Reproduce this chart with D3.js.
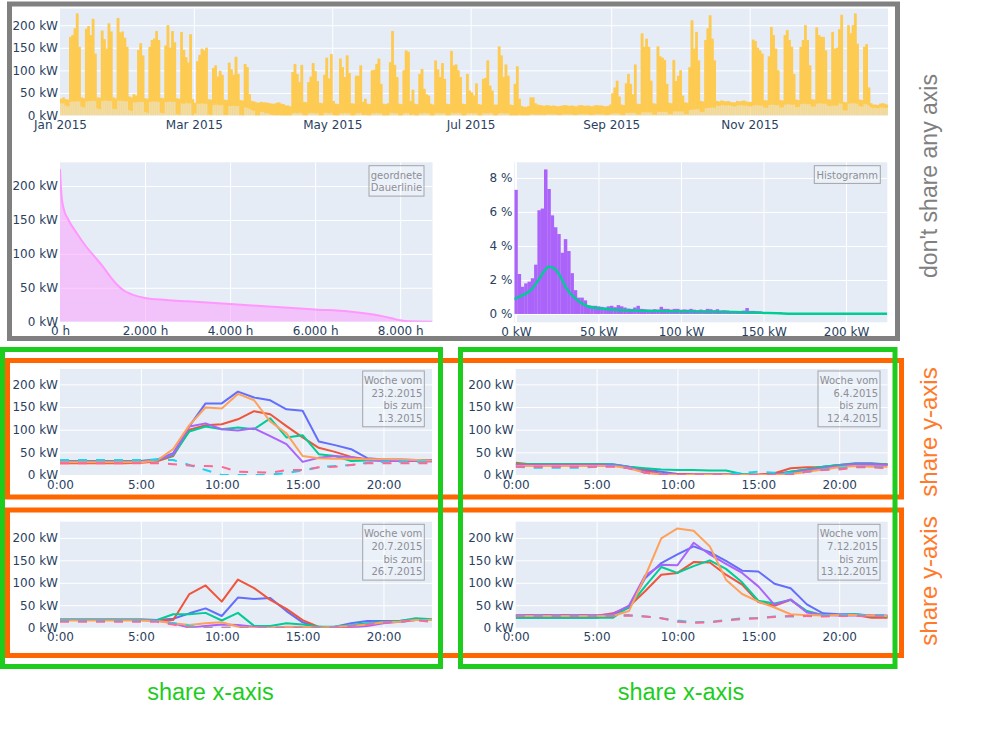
<!DOCTYPE html>
<html><head><meta charset="utf-8">
<script src="https://cdn.jsdelivr.net/npm/d3@7"></script>
<style>body{margin:0;background:#fff}svg{display:block}</style>
</head><body>
<svg id="c" width="1000" height="750"></svg>
<script>
// ---------------- DATA ----------------
// Top chart: daily peak and daily base load (kW), 2015
const peakJan=[35,38,34,33,172,176,191,224,150,38,36,190,196,176,212,135,38,37,186,167,146,202,184,38,36,214,182,184,170,150,40];
const peakFeb=[38,45,42,143,158,131,36,35,150,165,168,185,165,37,36,153,198,148,185,160,36,35,183,143,127,115,178,34];
const peakMar=[26,118,132,146,142,148,34,33,103,109,84,97,88,33,32,115,100,88,128,90,32,31,112,105,45,30,29,27,26,28,27];
const peakApr=[27,26,25,24,24,26,27,24,23,20,20,18,94,112,90,72,110,28,27,72,84,114,96,74,26,25,88,126,80,134];
const peakMay=[30,24,23,124,105,83,131,92,25,24,86,86,109,28,35,24,23,98,99,112,124,68,24,23,25,116,185,110,83,24,23];
const peakJun=[98,142,139,30,55,24,23,90,101,57,45,42,24,22,120,100,83,114,79,24,23,141,109,111,98,83,24,23,90,53];
const peakJul=[49,42,69,23,22,79,81,120,64,53,22,22,151,131,83,111,86,22,21,68,107,35,19,17,17,19,38,38,25,22,21];
const peakAug=[20,19,21,20,19,20,19,18,19,20,21,20,19,20,19,18,20,21,20,19,20,19,18,20,21,20,20,19,18,19,22];
const peakSep=[47,60,75,40,22,21,69,90,68,45,111,24,23,180,150,168,150,75,25,24,151,129,126,121,68,26,25,121,74,86];
const peakOct=[98,42,27,26,105,209,146,183,120,30,29,165,191,220,168,120,30,29,31,30,29,30,28,27,27,30,29,30,31,29,28];
const peakNov=[28,166,163,148,142,135,32,31,129,194,176,146,98,32,31,176,187,165,150,90,33,32,150,165,198,165,109,34,33,193];
const peakDec=[176,172,172,142,34,33,183,146,148,189,221,28,27,198,180,198,224,157,33,32,150,156,60,25,22,22,21,24,25,24,22];

const baseJan=[27,27,22,20,30,31,31,32,31,20,18,31,32,32,33,32,16,14,32,33,33,32,32,15,14,33,33,32,32,31,12];
const baseFeb=[10,29,29,30,30,30,8,6,30,31,31,31,30,6,5,30,30,31,30,30,3,2,27,26,28,27,27,0];
const baseMar=[5,26,26,27,26,26,2,1,23,24,24,23,23,1,1,21,21,22,21,21,1,0,18,17,15,12,10,0,0,8,8];
const baseApr=[5,5,3,1,1,0,1,0,0,0,0,0,5,6,5,6,5,0,0,5,6,6,5,5,0,0,6,6,5,6];
const baseMay=[1,0,0,5,5,6,5,5,0,0,5,5,6,1,2,0,0,5,5,6,5,5,0,0,0,6,6,5,5,0,0];
const baseJun=[5,6,5,1,3,0,0,5,5,6,5,5,0,0,5,6,5,5,5,0,0,6,5,5,6,5,0,0,5,5];
const baseJul=[5,5,5,0,0,6,5,5,6,5,0,0,5,6,5,5,5,0,0,0,0,2,0,0,0,0,3,3,2,2,2];
const baseAug=[2,1,3,3,3,3,3,1,1,3,3,3,3,3,1,1,3,3,3,3,3,1,1,3,3,3,3,3,1,1,3];
const baseSep=[4,5,5,4,1,1,6,6,6,6,6,2,2,7,7,7,7,7,2,2,8,8,8,8,8,3,3,9,9,9];
const baseOct=[9,9,3,3,12,13,13,14,14,8,8,16,17,17,18,17,22,21,23,23,22,23,22,21,20,22,23,23,22,22,21];
const baseNov=[20,22,23,23,22,22,18,17,23,24,24,23,23,18,18,24,25,25,24,24,19,19,25,26,26,25,25,20,20,26];
const baseDec=[27,27,26,26,22,21,22,22,22,27,26,12,11,26,27,27,27,26,21,20,25,25,22,18,17,17,16,18,18,17,17];

const monthTickDates=["2015-01-01","2015-03-01","2015-05-01","2015-07-01","2015-09-01","2015-11-01"];
const kwTicks=[0,50,100,150,200];

// Duration curve (sorted load), read points: hours / kW
const durHours=[0,30,80,200,400,600,800,1000,1200,1350,1500,1700,2000,2500,3000,4000,5000,6000,6800,7200,7500,7800,8000,8200,8760];
const durKW=[225,190,168,150,130,112,97,82,65,54,46,40,35,32,30,26,22,18,15,12,9,5,2,0.5,0];
const durTicks=[0,2000,4000,6000,8000];

// Histogram: 2 kW bins starting at -1 kW, share of hours in %
const histPct=[7.3,2.35,1.6,1.8,1.9,2.1,2.9,6.1,6.2,8.5,7.35,5.8,5.1,4.7,3.6,4.4,3.7,2.4,1.4,0.96,0.96,0.8,
0.5,0.48,0.48,0.45,0.42,0.38,0.45,0.48,0.4,0.52,0.45,0.38,0.32,0.3,0.38,0.48,0.3,0.28,0.26,0.25,0.28,0.26,0.42,
0.3,0.3,0.26,0.3,0.3,0.25,0.27,0.25,0.3,0.25,0.22,0.26,0.22,0.3,0.28,0.22,0.28,0.2,0.22,0.2,0.15,0.15,0.12,0.12,
0.2,0.35,0.18,0.18,0.16,0.15,0.08,0.06,0.06,0.1,0.08,0.1,0.06,
0.05,0.04,0.05,0.03,0.04,0.03,0.05,0.03,0.02,0.03,0.04,0.02,0.03,0.02,0.02,0.03,0.02,0.02,0.01,0.02,0.02,0.01,0.02,0.01,0.01,0.02,0.01,0.01,0.01,0.01,0.02];
const kdeKW=[-1,0,5,9,14,17,20,23,25,28,30,33,36,40,43,50,60,71,85,102,120,132,145,152,165,180,200,225];
const kdePct=[0.88,0.92,1.15,1.4,2.05,2.5,2.78,2.7,2.5,2.0,1.6,1.2,0.9,0.62,0.47,0.33,0.25,0.2,0.17,0.14,0.13,0.12,0.08,0.05,0.02,0.01,0.01,0.01];
const pctTicks=[0,2,4,6,8];

// Weekly panels: hourly load per weekday (kW), hours 0..23
const hours=d3.range(24);
const hourTicks=[0,5,10,15,20];
const dayNames=["Mo","Di","Mi","Do","Fr","Sa","So"];
const dayColors=["#636efa","#EF553B","#00cc96","#ab63fa","#FFA15A","#19d3f3","#FF6692"];

const w1Mo=[31,31,31,31,31,31,34,48,108,158,158,184,171,165,145,142,74,66,57,37,34,34,33,33];
const w1Di=[26,26,26,26,26,27,30,42,100,110,112,123,141,134,108,83,60,51,40,35,32,32,31,31];
const w1Mi=[31,31,31,31,31,31,33,44,96,107,101,105,101,125,83,88,46,42,31,32,32,32,32,31];
const w1Do=[30,30,30,30,30,30,33,46,107,114,101,98,103,86,68,29,38,42,39,33,31,31,31,30];
const w1Fr=[28,28,28,28,28,28,32,57,110,149,147,179,165,118,92,42,37,36,36,35,35,34,33,32];
const w1Sa=[33,33,33,33,33,33,34,33,22,11,0,0,0,1,4,10,17,20,22,27,29,29,29,29];
const w1So=[26,26,26,26,26,26,26,24,21,20,18,7,6,5,11,11,17,18,22,26,26,26,26,26];

const w2Mo=[24,24,24,24,24,24,24,18,12,7,2,1,1,1,0,0,2,7,12,18,22,26,26,23];
const w2Di=[27,23,23,23,23,23,22,17,10,2,2,1,1,1,1,1,4,15,17,17,22,23,24,24];
const w2Mi=[24,24,24,24,24,24,23,18,15,12,11,11,10,10,2,0,0,7,12,18,22,24,24,23];
const w2Do=[22,22,22,22,22,22,22,17,7,2,1,0,0,0,0,0,1,4,10,15,20,23,23,22];
const w2Fr=[20,20,20,20,20,20,20,15,5,1,0,0,0,0,0,0,0,2,7,12,17,20,18,18];
const w2Sa=[18,16,16,16,16,18,20,15,5,1,0,0,0,0,5,7,5,4,7,12,15,18,18,17];
const w2So=[18,18,18,18,18,18,18,15,5,1,0,0,0,0,0,0,0,1,7,11,12,17,17,15];

const w3Mo=[17,17,17,17,17,17,17,20,32,43,26,67,64,66,37,12,0,2,10,15,15,15,17,17];
const w3Di=[17,17,17,17,17,17,16,17,75,94,58,107,88,62,42,17,2,0,2,7,12,15,19,17];
const w3Mi=[19,19,19,19,19,19,17,30,30,33,16,33,4,4,10,7,2,2,6,10,13,15,21,19];
const w3Do=[17,17,17,17,17,17,16,10,0,4,7,6,2,0,0,0,0,0,0,4,10,13,17,17];
const w3Fr=[16,16,16,16,16,16,15,10,6,10,12,2,0,0,2,2,0,2,4,7,12,13,17,17];
const w3Sa=[15,15,15,15,15,15,15,10,4,0,0,0,0,0,0,0,0,2,6,10,12,13,17,15];
const w3So=[13,13,13,13,13,13,13,7,0,0,0,0,0,0,0,0,0,1,4,7,12,13,17,13];

const w4Mo=[22,22,22,22,22,22,28,45,110,144,163,181,168,149,127,125,98,88,52,32,30,30,27,25];
const w4Di=[26,26,26,26,26,26,32,47,81,118,122,146,145,118,96,57,49,62,36,28,28,28,22,22];
const w4Mi=[22,22,22,22,22,22,22,47,92,135,122,137,150,131,101,60,54,62,37,28,28,30,26,25];
const w4Do=[28,28,28,28,28,28,30,49,116,140,139,189,163,142,122,92,51,63,34,28,27,27,27,27];
const w4Fr=[26,26,26,26,26,26,26,37,114,199,221,216,181,107,75,58,45,30,28,27,28,28,27,26];
const w4Sa=[27,27,27,27,27,27,27,28,25,21,16,12,13,17,21,21,25,25,26,27,28,28,28,28];
const w4So=[26,26,26,26,26,26,26,27,25,21,13,11,12,16,19,21,24,26,26,25,26,26,26,25];

const weekLabels=[["Woche vom","23.2.2015","bis zum","1.3.2015"],["Woche vom","6.4.2015","bis zum","12.4.2015"],
                  ["Woche vom","20.7.2015","bis zum","26.7.2015"],["Woche vom","7.12.2015","bis zum","13.12.2015"]];

// ---------------- DRAWING ----------------
const svg=d3.select("#c");
const FONT="'DejaVu Sans', Verdana, sans-serif";
const TXT="#2a3f5f", BG="#E5ECF6";
let clipN=0;

function makePanel(b){
  const g=svg.append("g");
  g.append("rect").attr("x",b.x0).attr("y",b.y0).attr("width",b.x1-b.x0).attr("height",b.y1-b.y0).attr("fill",BG);
  const id="clip"+(clipN++);
  svg.append("clipPath").attr("id",id).append("rect").attr("x",b.x0).attr("y",b.y0).attr("width",b.x1-b.x0).attr("height",b.y1-b.y0);
  const grid=g.append("g"), marks=g.append("g").attr("clip-path",`url(#${id})`), axes=g.append("g");
  return {g,grid,marks,axes};
}
function styleAxis(sel){
  sel.select(".domain").remove();
  sel.selectAll("text").attr("fill",TXT).style("font-family",FONT).style("font-size","12px");
}
function grids(P,b,x,y,xt,yt){
  P.grid.append("g").attr("transform",`translate(0,${b.y1})`)
    .call(d3.axisBottom(x).tickValues(xt).tickSize(-(b.y1-b.y0)).tickFormat(""))
    .call(s=>{s.select(".domain").remove();s.selectAll("line").attr("stroke","#fff").attr("stroke-width",1);});
  P.grid.append("g").attr("transform",`translate(${b.x0},0)`)
    .call(d3.axisLeft(y).tickValues(yt).tickSize(-(b.x1-b.x0)).tickFormat(""))
    .call(s=>{s.select(".domain").remove();s.selectAll("line").attr("stroke","#fff").attr("stroke-width",1);});
}
function axes(P,b,x,y,xt,yt,xf,yf){
  P.axes.append("g").attr("transform",`translate(0,${b.y1})`)
    .call(d3.axisBottom(x).tickValues(xt).tickSize(0).tickPadding(5).tickFormat(xf)).call(styleAxis);
  P.axes.append("g").attr("transform",`translate(${b.x0},0)`)
    .call(d3.axisLeft(y).tickValues(yt).tickSize(0).tickPadding(2).tickFormat(yf)).call(styleAxis);
}
function noteBox(xRight,yTop,lines,align,width){
  const g=svg.append("g");
  const lh=12.7, h=lines.length*lh+5;
  g.append("rect").attr("x",xRight-width).attr("y",yTop).attr("width",width).attr("height",h)
    .attr("fill","rgba(255,255,255,0.25)").attr("stroke","#a3a3a8").attr("stroke-width",1);
  lines.forEach((t,i)=>{
    g.append("text").attr("x",align==="end"?xRight-2:xRight-width/2).attr("y",yTop+3+lh*i+lh/2)
      .attr("dy","0.35em").attr("text-anchor",align).attr("fill","#8e8e96")
      .style("font-family",FONT).style("font-size","10px").text(t);
  });
}
const kwFmt=d=>d+" kW";
const grp=n=>d3.format(",")(n).replace(/,/g,".");

// ---- Top: yearly load ----
{
  const b={x0:60,x1:888,y0:8.5,y1:115.5};
  const P=makePanel(b);
  const x=d3.scaleUtc().domain([Date.UTC(2015,0,1),Date.UTC(2016,0,1)]).range([b.x0,b.x1]);
  const y=d3.scaleLinear().domain([0,237]).range([b.y1,b.y0]);
  const mt=monthTickDates.map(s=>new Date(s+"T00:00:00Z"));
  grids(P,b,x,y,mt.slice(1),kwTicks.slice(1));
  const peak=[].concat(peakJan,peakFeb,peakMar,peakApr,peakMay,peakJun,peakJul,peakAug,peakSep,peakOct,peakNov,peakDec);
  const base=[].concat(baseJan,baseFeb,baseMar,baseApr,baseMay,baseJun,baseJul,baseAug,baseSep,baseOct,baseNov,baseDec);
  const days=peak.map((p,i)=>({i,p,b:base[i],t0:Date.UTC(2015,0,1+i),t1:Date.UTC(2015,0,2+i)}));
  P.marks.selectAll("rect.f").data(days).join("rect")
    .attr("x",d=>x(d.t0)).attr("width",d=>x(d.t1)-x(d.t0)+0.4)
    .attr("y",d=>y(d.p)).attr("height",d=>y(0)-y(d.p)).attr("fill","rgba(254,203,82,0.5)");
  P.marks.selectAll("rect.l").data(days).join("rect")
    .attr("x",d=>x(d.t0)).attr("width",d=>x(d.t1)-x(d.t0)+0.4)
    .attr("y",d=>y(d.p)-1).attr("height",d=>Math.max(2,y(d.b)-y(d.p)+1)).attr("fill","#FECB52");
  axes(P,b,x,y,mt,kwTicks,d3.utcFormat("%b %Y"),kwFmt);
}

// ---- Duration curve ----
{
  const b={x0:60,x1:432.5,y0:162.3,y1:321.7};
  const P=makePanel(b);
  const x=d3.scaleLinear().domain([0,8760]).range([b.x0,b.x1]);
  const y=d3.scaleLinear().domain([0,235]).range([b.y1,b.y0]);
  grids(P,b,x,y,durTicks.slice(1),kwTicks.slice(1));
  const pts=durHours.map((h,i)=>[h,durKW[i]]);
  P.marks.append("path").datum(pts)
    .attr("d",d3.area().x(d=>x(d[0])).y0(y(0)).y1(d=>y(d[1])).curve(d3.curveMonotoneX))
    .attr("fill","rgba(255,151,255,0.5)");
  P.marks.append("path").datum(pts)
    .attr("d",d3.line().x(d=>x(d[0])).y(d=>y(d[1])).curve(d3.curveMonotoneX))
    .attr("fill","none").attr("stroke","#FF97FF").attr("stroke-width",2);
  axes(P,b,x,y,durTicks,kwTicks,d=>grp(d)+" h",kwFmt);
  noteBox(424,165.7,["geordnete","Dauerlinie"],"middle",55);
}

// ---- Histogram ----
{
  const b={x0:514.3,x1:887.3,y0:162.3,y1:322.3};
  const P=makePanel(b);
  const x=d3.scaleLinear().domain([-1,225]).range([b.x0,b.x1]);
  const y=d3.scaleLinear().domain([-0.49,8.92]).range([b.y1,b.y0]);
  grids(P,b,x,y,[50,100,150,200],[2,4,6,8]);
  P.grid.append("line").attr("x1",b.x0).attr("x2",b.x1).attr("y1",y(0)).attr("y2",y(0)).attr("stroke","#fff").attr("stroke-width",2);
  P.grid.append("line").attr("x1",x(0)).attr("x2",x(0)).attr("y1",b.y0).attr("y2",b.y1).attr("stroke","#fff").attr("stroke-width",2);
  P.marks.selectAll("rect").data(histPct).join("rect")
    .attr("x",(d,i)=>x(-1+2*i)).attr("width",(d,i)=>x(1+2*i)-x(-1+2*i)+0.2)
    .attr("y",d=>y(d)).attr("height",d=>y(0)-y(d)).attr("fill","#ab63fa");
  const pts=kdeKW.map((k,i)=>[k,kdePct[i]]);
  P.marks.append("path").datum(pts)
    .attr("d",d3.line().x(d=>x(d[0])).y(d=>y(d[1])).curve(d3.curveMonotoneX))
    .attr("fill","none").attr("stroke","#00cc96").attr("stroke-width",2.5);
  axes(P,b,x,y,[0,50,100,150,200],pctTicks,kwFmt,d=>d+" %");
  noteBox(880.3,165.7,["Histogramm"],"middle",66);
}

// ---- Weekly panels ----
const weeks=[[w1Mo,w1Di,w1Mi,w1Do,w1Fr,w1Sa,w1So],[w2Mo,w2Di,w2Mi,w2Do,w2Fr,w2Sa,w2So],
             [w3Mo,w3Di,w3Mi,w3Do,w3Fr,w3Sa,w3So],[w4Mo,w4Di,w4Mi,w4Do,w4Fr,w4Sa,w4So]];
const wBoxes=[{x0:60,x1:432,y0:369,y1:475,top:234},{x0:515.7,x1:887.7,y0:369,y1:475,top:234},
              {x0:60,x1:432,y0:521.7,y1:627.7,top:236},{x0:515.7,x1:887.7,y0:521.7,y1:627.7,top:236}];
weeks.forEach((series,k)=>{
  const b=wBoxes[k];
  const P=makePanel(b);
  const x=d3.scaleLinear().domain([0,23]).range([b.x0,b.x1]);
  const y=d3.scaleLinear().domain([0,b.top]).range([b.y1,b.y0]);
  grids(P,b,x,y,hourTicks.slice(1),kwTicks.slice(1));
  series.forEach((vals,j)=>{
    P.marks.append("path").datum(vals)
      .attr("d",d3.line().x((d,i)=>x(hours[i])).y(d=>y(d)))
      .attr("fill","none").attr("stroke",dayColors[j]).attr("stroke-width",2)
      .attr("stroke-linejoin","round")
      .attr("stroke-dasharray",j>=5?"9,9":null);
  });
  axes(P,b,x,y,hourTicks,kwTicks,d=>d+":00",kwFmt);
  const wd=k===3?62:(k===1?62:61.6);
  noteBox(b.x1-7.7,b.y0+(k<2?2:2.6),weekLabels[k],"end",wd);
});

// ---- Frames and side labels ----
const frames=svg.append("g").attr("fill","none");
frames.append("rect").attr("x",9.5).attr("y",4).attr("width",888).attr("height",334.5).attr("stroke","#808080").attr("stroke-width",5);
frames.append("rect").attr("x",7.5).attr("y",360.5).attr("width",894).attr("height",136.5).attr("stroke","#ff6600").attr("stroke-width",5);
frames.append("rect").attr("x",7.5).attr("y",510).attr("width",894).attr("height",145.5).attr("stroke","#ff6600").attr("stroke-width",5);
frames.append("rect").attr("x",2.5).attr("y",349.5).attr("width",438).attr("height",317).attr("stroke","#1ecc1e").attr("stroke-width",5);
frames.append("rect").attr("x",460.5).attr("y",349.5).attr("width",434.5).attr("height",317).attr("stroke","#1ecc1e").attr("stroke-width",5);

const LF="'Liberation Sans', Arial, sans-serif";
function vText(x,y,t,col,size){
  svg.append("text").attr("transform",`translate(${x},${y}) rotate(-90)`).attr("text-anchor","middle")
    .attr("fill",col).style("font-family",LF).style("font-size",size+"px").text(t);
}
vText(937,176,"don't share any axis","#808080",23);
vText(937,432,"share y-axis","#ff7b2c",24);
vText(937,581,"share y-axis","#ff7b2c",24);
svg.append("text").attr("x",210.5).attr("y",700).attr("text-anchor","middle").attr("fill","#1ecc1e")
  .style("font-family",LF).style("font-size","23.5px").text("share x-axis");
svg.append("text").attr("x",681).attr("y",700).attr("text-anchor","middle").attr("fill","#1ecc1e")
  .style("font-family",LF).style("font-size","23.5px").text("share x-axis");
</script>
</body></html>
